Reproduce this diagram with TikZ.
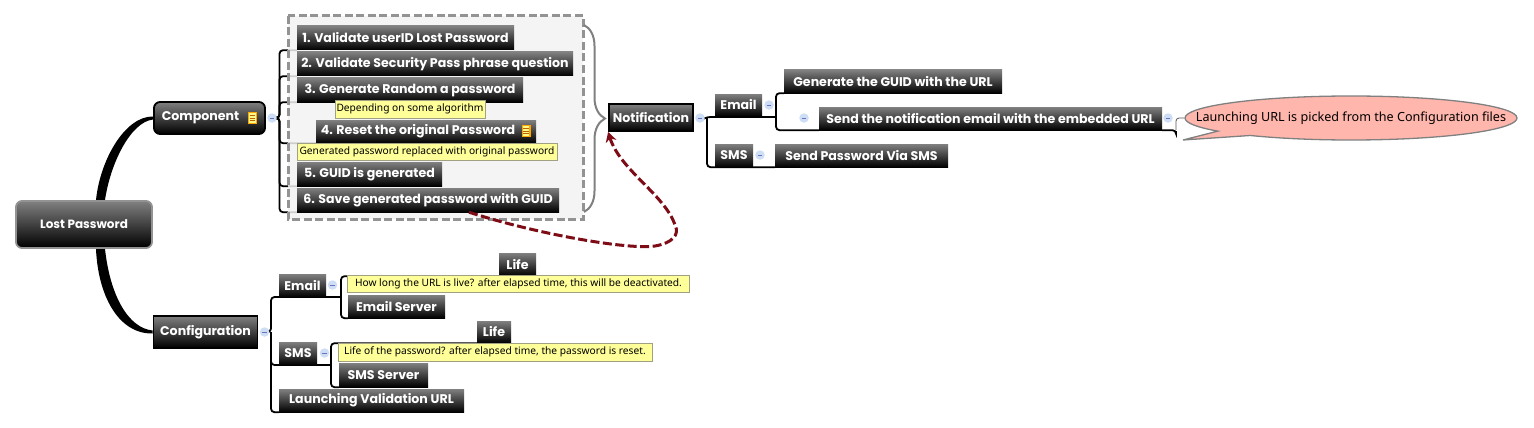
\documentclass[tikz,border=0pt]{standalone}
\usepackage{fontspec}
\setmainfont{Poppins}
\newfontfamily\notefont{Noto Sans}
\usetikzlibrary{shapes.callouts,decorations.pathreplacing,arrows.meta,backgrounds}
\definecolor{boxtop}{RGB}{128, 128, 128}
\definecolor{notefill}{RGB}{255, 255, 153}
\definecolor{noteline}{RGB}{160, 160, 130}
\definecolor{togglefill}{RGB}{205, 222, 245}
\definecolor{panelline}{RGB}{128, 128, 128}
\definecolor{linkred}{RGB}{125, 12, 22}
\definecolor{calloutfill}{RGB}{255, 182, 172}
\tikzset{
  wh/.style 2 args={minimum width=#1pt, minimum height=#2pt},
  topic/.style={top color=boxtop, bottom color=black, text=white, inner sep=0pt,
    font=\bfseries\fontsize{12.6}{14}\selectfont},
  mainbox/.style={topic, draw=black, line width=1.8pt},
  note/.style={fill=notefill, draw=noteline, line width=0.6pt, inner sep=0pt,
    font=\notefont\fontsize{10.2}{12}\selectfont},
  toggle/.style={circle, fill=togglefill, inner sep=0pt, minimum size=9.5pt,
    path picture={\draw[gray!60!blue!80, line width=0.8pt]
      ([xshift=-2.2pt]path picture bounding box.center) -- ([xshift=2.2pt]path picture bounding box.center);}},
  branch/.style={draw=black, line width=1.8pt, rounded corners=3.5pt},
  noteicon/.pic={
    \fill[orange!70!yellow] (-4.5,-6) rectangle (4.5,6);
    \fill[yellow!45] (-3.2,-4.8) rectangle (3.2,4.8);
    \foreach \ly in {-2.5,0,2.5}{
      \draw[orange!75!black, line width=0.8pt] (-2.6,\ly) -- (2.6,\ly);
    }
  }
}
\begin{document}
\begin{tikzpicture}[x=1pt, y=-1pt]
  \useasboundingbox (0,0) rectangle (1534,428);
  % Centre and first level
  \node[topic, wh={136}{47}, rounded corners=6pt, draw=gray!85, line width=1.8pt,
        font=\bfseries\fontsize{12}{14}\selectfont] (root) at (84,224.5) {Lost Password};
  \node[mainbox, wh={111}{32}, rounded corners=6pt] (component) at (209.5,118) {Component\hspace*{18pt}};
  \node[mainbox, wh={104}{32}] (configuration) at (205.5,332) {Configuration};
  \node[mainbox, wh={84}{27}] (notification) at (651,117.5) {Notification};
  % Toggles
  \node[toggle] (cmptoggle) at (272,118) {};
  \node[toggle] (cfgtoggle) at (264.5,332) {};
  \node[toggle] (ntftoggle) at (700,118) {};
  \node[toggle] (ntfemailtoggle) at (769,105) {};
  \node[toggle] (ntfsmstoggle) at (760,155) {};
  \node[toggle] (sendtoggle) at (804,118) {};
  \node[toggle] (urltoggle) at (1168,118) {};
  \node[toggle] (cfgemailtoggle) at (332.5,285) {};
  \node[toggle] (cfgsmstoggle) at (324.5,353) {};
  % Steps of the component
  \node[topic, wh={217}{24}] (stepone) at (405.5,38) {1. Validate userID Lost Password};
  \node[topic, wh={276}{24}] (steptwo) at (435,64) {2. Validate Security Pass phrase question};
  \node[topic, wh={226}{24}] (stepthree) at (410,90) {3. Generate Random a password};
  \node[topic, wh={220}{23}] (stepfour) at (426,131.5) {4. Reset the original Password\hspace*{16pt}};
  \node[topic, wh={145}{24}] (stepfive) at (369.5,174) {5. GUID is generated};
  \node[topic, wh={262}{24}] (stepsix) at (428,200) {6. Save generated password with GUID};
  \node[note, wh={150}{18}] (algonote) at (410,109) {Depending on some algorithm};
  \node[note, wh={260}{17}] (replacenote) at (427,151.5) {Generated password replaced with original password};
  \pic at (252.5,118) {noteicon};
  \pic at (526,131) {noteicon};
  % Notification side
  \node[topic, wh={47}{22}] (ntfemail) at (738.5,105) {Email};
  \node[topic, wh={38}{23}] (ntfsms) at (734,155.5) {SMS};
  \node[topic, wh={218}{23}] (genguid) at (893,81.5) {Generate the GUID with the URL};
  \node[topic, wh={343}{23}] (sendnote) at (990.5,118.5) {Send the notification email with the embedded URL};
  \node[topic, wh={173}{23}] (sendsms) at (861.5,155.5) {Send Password Via SMS};
  \coordinate (ntfstem) at (707,117);
  \coordinate (mailstem) at (776,117);
  \coordinate (urlknee) at (1176,130);
  \node[ellipse callout, callout absolute pointer={(1183,140)}, callout pointer arc=16,
        fill=calloutfill, draw=gray, line width=1.3pt, inner sep=0pt, wh={332}{44},
        font=\notefont\fontsize{12.6}{14}\selectfont] (urlcallout) at (1351,118)
        {\makebox[0pt]{Launching URL is picked from the Configuration files}};
  % Configuration side
  \node[topic, wh={47}{23}] (cfgemail) at (302.5,285.5) {Email};
  \node[topic, wh={38}{23}] (cfgsms) at (298,353.5) {SMS};
  \node[topic, wh={185}{23}] (launchurl) at (371.5,400.5) {Launching Validation URL};
  \node[topic, wh={37}{23}] (lifeone) at (517.5,264.5) {Life};
  \node[topic, wh={97}{23}] (mailserver) at (396.5,306.5) {Email Server};
  \node[topic, wh={34}{22}] (lifetwo) at (494,332) {Life};
  \node[topic, wh={89}{24}] (smsserver) at (383.5,375) {SMS Server};
  \node[note, wh={342}{17}] (livenote) at (518.5,283.5) {How long the URL is live? after elapsed time, this will be deactivated.};
  \node[note, wh={314}{18}] (resetnote) at (495,352) {Life of the password? after elapsed time, the password is reset.};
  \coordinate (cmpstem) at (279.5,118);
  \coordinate (cfgstem) at (271,332);
  \coordinate (cfgmailstem) at (341,297);
  \coordinate (cfgsmsstem) at (331,365);
  \begin{scope}[on background layer]
    % Tapered main branches
    \fill ([xshift=12pt]root.north) .. controls (100,160) and (125,116) .. ([yshift=1.5pt]component.west)
          -- ([yshift=-1.5pt]component.west) .. controls (130,122) and (110,165) .. ([xshift=21pt]root.north) -- cycle;
    \fill ([xshift=12pt]root.south) .. controls (98,295) and (118,334) .. ([yshift=-1.5pt]configuration.west)
          -- ([yshift=1.5pt]configuration.west) .. controls (128,328) and (110,295) .. ([xshift=21pt]root.south) -- cycle;
    % Branches
    \foreach \child in {stepone,steptwo,stepthree,stepfour,stepfive,stepsix}{
      \draw[branch] (cmptoggle.east) -- (cmpstem) |- (\child.south west);
    }
    \draw[branch] (ntftoggle.east) -- (ntfstem) -- (mailstem);
    \draw[branch] (ntfstem) |- (sendsms.south west);
    \draw[branch] (mailstem) |- (genguid.south west);
    \draw[branch] (mailstem) |- (sendnote.south west);
    \draw[branch] (sendnote.south east) -| ([yshift=-1pt]urlknee);
    \draw[gray!70!black, line width=0.8pt, rounded corners=3pt] (urlknee) |- (urlcallout.west);
    \draw[branch] (cfgtoggle.east) -- (cfgstem) |- (cfgmailstem);
    \draw[branch] (cfgstem) |- (cfgsmsstem);
    \draw[branch] (cfgstem) |- (launchurl.south west);
    \draw[branch] (cfgmailstem) |- (lifeone.south west);
    \draw[branch] (cfgmailstem) |- (mailserver.south west);
    \draw[branch] (cfgsmsstem) |- (lifetwo.south west);
    \draw[branch] (cfgsmsstem) |- (smsserver.south west);
    % Panel round the steps
    \fill[gray!10, opacity=0.85] (288,16) rectangle (583,219);
    \draw[panelline!85, line width=3pt, dash pattern=on 8pt off 3.5pt] (288,16) rectangle (583,219);
  \end{scope}
  \draw[panelline, line width=2pt, decorate, decoration={brace, amplitude=21pt}]
    (584,25) -- (584,212);
  % Link back to the notification
  \draw[linkred, line width=3pt, dash pattern=on 9pt off 3.5pt, -{Stealth[length=10pt,width=11pt]}]
    ([xshift=41pt]stepsix.south) .. controls (540,235) and (630,250) .. (655,246)
    .. controls (672,243) and (680,235) .. (675,225)
    .. controls (665,195) and (620,170) .. (notification.south west);
\end{tikzpicture}
\end{document}
